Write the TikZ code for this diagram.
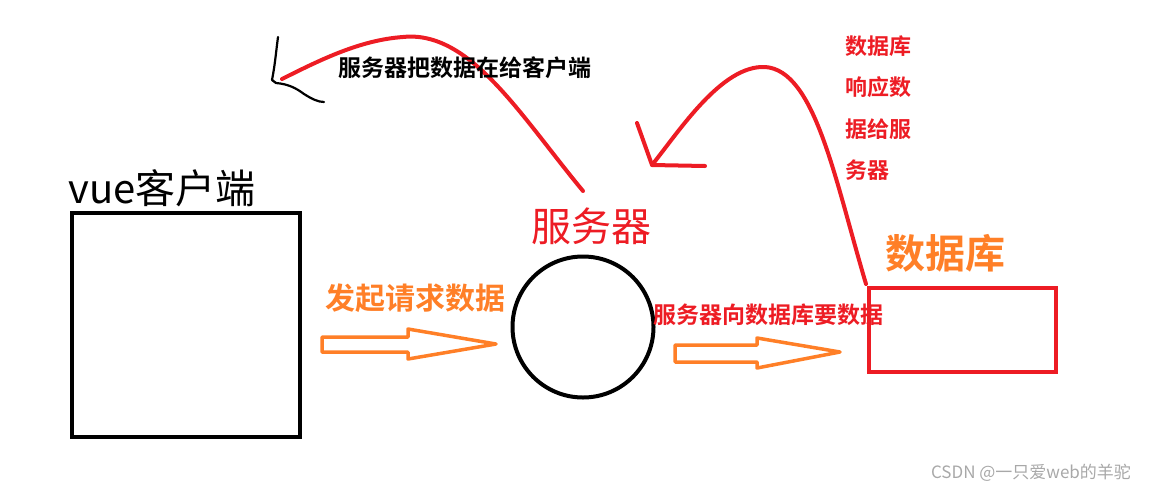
\documentclass[tikz,border=0pt]{standalone}
\usepackage{fontspec}
\setmainfont{Noto Sans CJK SC}[BoldFont={Noto Sans CJK SC Bold}]
\definecolor{pred}{HTML}{ED1C24}
\definecolor{porange}{HTML}{FF7F27}
\definecolor{wgray}{HTML}{A8A8A8}
\tikzset{
  txt/.style={inner sep=0pt, outer sep=0pt},
  boxk/.style={draw=black, line width=4pt},
  hollow/.style={draw=porange, line width=3.5pt, line join=round},
  redline/.style={draw=pred, line width=4pt, line cap=round, line join=round},
}
\begin{document}
\begin{tikzpicture}[x=1pt,y=-1pt]
\useasboundingbox (0,0) rectangle (1158,493);
% client box
\node[boxk, minimum width=228pt, minimum height=224pt, inner sep=0pt] (client) at (186,325) {};
\node[txt, font=\fontsize{40}{44}\selectfont] (clientlbl) at (162,188) {vue客户端};
% server circle
\node[draw=black, line width=4pt, circle, minimum size=141pt, inner sep=0pt] (server) at (583,327) {};
\node[txt, text=pred, font=\fontsize{40}{44}\selectfont] (serverlbl) at (591,226) {服务器};
% database box
\node[draw=pred, line width=4pt, minimum width=187pt, minimum height=84pt, inner sep=0pt] (db) at (962.5,330) {};
\node[txt, text=porange, font=\fontsize{40}{44}\selectfont\bfseries] (dblbl) at (945,253) {数据库};
% request arrow
\node[txt, text=porange, font=\fontsize{30}{34}\selectfont\bfseries] (reqlbl) at (415,298) {发起请求数据};
\draw[hollow] (322,337) -- (408,337) -- (408,329) -- (496,344) -- (408,359) -- (408,352) -- (322,352) -- cycle;
% server to db arrow
\node[txt, text=pred, font=\fontsize{23}{26}\selectfont\bfseries] (asklbl) at (768,315) {服务器向数据库要数据};
\draw[hollow] (675,345) -- (757,345) -- (757,338) -- (840,352) -- (757,368) -- (757,362) -- (675,362) -- cycle;
% response curve from db to server
\coordinate (r0) at (866,284);
\coordinate (rpk) at (765,67);
\coordinate (rtip) at (652,165);
\draw[redline] (r0) .. controls (835,180) and (815,70) .. (rpk) .. controls (722,65) and (680,130) .. (rtip);
\draw[redline] (637,123) -- (rtip) -- (705,166);
\node[txt, text=pred, font=\fontsize{22}{25}\selectfont\bfseries, anchor=west] (resp1) at (845,46) {数据库};
\node[txt, text=pred, font=\fontsize{22}{25}\selectfont\bfseries, anchor=west] (resp2) at (845,87) {响应数};
\node[txt, text=pred, font=\fontsize{22}{25}\selectfont\bfseries, anchor=west] (resp3) at (845,129) {据给服};
\node[txt, text=pred, font=\fontsize{22}{25}\selectfont\bfseries, anchor=west] (resp4) at (845,170) {务器};
% server to client curve
\coordinate (s0) at (583,191);
\coordinate (spk) at (403,37);
\coordinate (send) at (282,79);
\draw[redline] (s0) .. controls (520,115) and (470,30) .. (spk) .. controls (360,40) and (320,60) .. (send);
\draw[black, line width=2.2pt, line cap=round, line join=round] (278,37) .. controls (276,52) and (275,65) .. (272,80) -- (276,83) .. controls (288,84) and (296,88) .. (304,94) .. controls (312,99) and (318,102) .. (324,102);
\node[txt, font=\fontsize{23}{26}\selectfont\bfseries] (backlbl) at (465,68) {服务器把数据在给客户端};
% watermark
\node[txt, text=wgray, font=\fontsize{17}{20}\selectfont] (wm) at (1031,473) {CSDN @一只爱web的羊驼};
\end{tikzpicture}
\end{document}
